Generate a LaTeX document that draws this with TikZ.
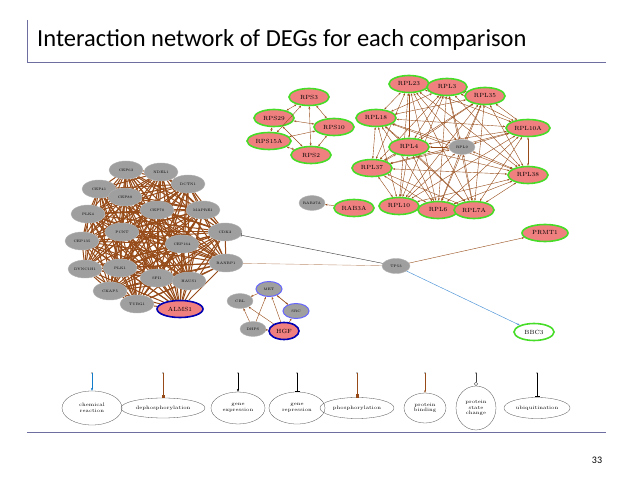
\documentclass[tikz,border=0pt]{standalone}
\usepackage{fontspec}
\newfontfamily\titlefont{Carlito}
\usetikzlibrary{shapes.geometric,arrows.meta,backgrounds}
\definecolor{edgebrown}{RGB}{150,75,25}
\definecolor{deg}{RGB}{240,128,128}
\definecolor{ring}{RGB}{70,220,40}
\definecolor{rule}{RGB}{110,110,160}
\tikzset{
  gene/.style={ellipse,fill=gray!75,draw=gray!60,minimum width=34pt,minimum height=18pt,inner sep=0pt,font=\fontsize{3.5}{4}\selectfont},
  up/.style={ellipse,fill=deg,draw=ring,line width=1.6pt,minimum width=40pt,minimum height=17pt,inner sep=0pt,font=\fontsize{6}{7}\selectfont},
  down/.style={up,draw=blue!70!black},
  link/.style={draw=edgebrown,line width=0.4pt,-{Stealth[length=2.5pt]}},
  heavy/.style={draw=edgebrown,line width=1pt},
  key/.style={ellipse,draw=gray!60!black,line width=0.3pt,inner sep=1pt,align=center,font=\fontsize{5}{5.5}\selectfont}
}
\begin{document}
\begin{tikzpicture}[x=1pt,y=-1pt]
\useasboundingbox (0,0) rectangle (638,478);
% title and rules
\node[anchor=base west,inner sep=0pt,font=\titlefont\fontsize{24.5}{28}\selectfont] (title) at (37,47) {Interaction network of DEGs for each comparison};
\draw[rule,line width=0.6pt] (27,20) -- (27,62) -- (606,62);
\draw[rule,line width=1pt] (27,433) -- (606,433);
\node[font=\titlefont\fontsize{10}{12}\selectfont] (page) at (597,460) {33};

% centrosome cluster
\node[gene] (CEP63) at (126,170) {CEP63};
\node[gene] (NDEL1) at (161,172) {NDEL1};
\node[gene] (DCTN1) at (188,184) {DCTN1};
\node[gene] (CEP41) at (99,189) {CEP41};
\node[gene] (CEP89) at (125,197) {CEP89};
\node[gene] (CEP70) at (157,210) {CEP70};
\node[gene] (MAPRE1) at (203,210) {MAPRE1};
\node[gene] (PLK4) at (88,214) {PLK4};
\node[gene] (PCNT) at (122,232) {PCNT};
\node[gene] (CDK2) at (225,232) {CDK2};
\node[gene] (CEP135) at (82,241) {CEP135};
\node[gene] (CEP164) at (182,244) {CEP164};
\node[gene] (DYNC1H1) at (85,269) {DYNC1H1};
\node[gene] (PLK1) at (120,268) {PLK1};
\node[gene] (NUP62) at (226,263) {RANBP1};
\node[gene] (SFI1) at (157,278) {SFI1};
\node[gene] (HAUS1) at (189,281) {HAUS1};
\node[gene] (CKAP5) at (110,291) {CKAP5};
\node[gene] (TUBG1) at (137,304) {TUBG1};
\node[down,minimum width=46pt] (ALMS1) at (180,309) {ALMS1};
\begin{scope}[on background layer]
\foreach \a [count=\i] in {CEP63,NDEL1,DCTN1,CEP41,CEP89,CEP70,MAPRE1,PLK4,PCNT,CDK2,CEP135,CEP164,DYNC1H1,PLK1,NUP62,SFI1,HAUS1,CKAP5,TUBG1,ALMS1}
  \foreach \b [count=\j] in {CEP63,NDEL1,DCTN1,CEP41,CEP89,CEP70,MAPRE1,PLK4,PCNT,CDK2,CEP135,CEP164,DYNC1H1,PLK1,NUP62,SFI1,HAUS1,CKAP5,TUBG1,ALMS1}
  {\ifnum\j>\i \draw[heavy] (\a) -- (\b); \fi}
\end{scope}

% small ribosomal cluster
\node[up] (RPS3) at (309,97) {RPS3};
\node[up] (RPS29) at (274,118) {RPS29};
\node[up] (RPS10) at (334,127) {RPS10};
\node[up,minimum width=44pt] (RPS15A) at (269,141) {RPS15A};
\node[up] (RPS2) at (311,155) {RPS2};
\foreach \a/\b in {RPS3/RPS29,RPS3/RPS10,RPS3/RPS2,RPS3/RPS15A,RPS29/RPS15A,RPS29/RPS10,RPS29/RPS2,RPS10/RPS2,RPS10/RPS15A,RPS15A/RPS2}
  \draw[link,{Stealth[length=2.5pt]}-{Stealth[length=2.5pt]}] (\a) -- (\b);

% large ribosomal cluster
\node[up] (RPL23) at (409,84) {RPL23};
\node[up] (RPL3) at (447,87) {RPL3};
\node[up] (RPL35) at (485,96) {RPL35};
\node[up] (RPL18) at (376,118) {RPL18};
\node[up,minimum width=44pt] (RPL10A) at (528,128) {RPL10A};
\node[up] (RPL4) at (409,147) {RPL4};
\node[gene,minimum width=26pt,minimum height=15pt] (RPL9) at (462,147) {RPL9};
\node[up] (RPL37) at (372,168) {RPL37};
\node[up] (RPL38) at (528,175) {RPL38};
\node[up] (RPL10) at (399,206) {RPL10};
\node[up] (RPL6) at (438,210) {RPL6};
\node[up] (RPL7A) at (474,210) {RPL7A};
\begin{scope}[on background layer]
\foreach \a [count=\i] in {RPL23,RPL3,RPL35,RPL18,RPL10A,RPL4,RPL9,RPL37,RPL38,RPL10,RPL6,RPL7A}
  \foreach \b [count=\j] in {RPL23,RPL3,RPL35,RPL18,RPL10A,RPL4,RPL9,RPL37,RPL38,RPL10,RPL6,RPL7A}
  {\ifnum\j>\i \draw[link,{Stealth[length=2.5pt]}-{Stealth[length=2.5pt]}] (\a) -- (\b); \fi}
\end{scope}

\node[gene,minimum width=26pt,minimum height=15pt] (RAB27A) at (312,203) {RAB27A};
\node[up] (RAB3A) at (354,208) {RAB3A};
\draw[link] (RAB3A) -- (RAB27A);

% hub and targets
\node[gene,minimum width=28pt,minimum height=15pt] (TP53) at (396,266) {TP53};
\node[up,minimum width=46pt] (PRMT1) at (545,233) {PRMT1};
\node[up,fill=white] (BBC3) at (534,332) {BBC3};
\draw[draw=gray!40!black,line width=0.4pt,-{Bar[width=4pt]}] (TP53) -- (CDK2);
\draw[draw=edgebrown!60,line width=0.4pt] (TP53) -- (NUP62);
\draw[link] (TP53) -- (PRMT1);
\draw[draw=cyan!60!blue!70,line width=0.5pt,-{Stealth[length=3pt]}] (TP53) -- (BBC3);

% HGF cluster
\node[gene,draw=blue!60,line width=1pt,minimum width=26pt,minimum height=15pt] (MET) at (269,289) {MET};
\node[gene,minimum width=26pt,minimum height=15pt] (CBL) at (240,301) {CBL};
\node[gene,draw=blue!60,line width=1pt,minimum width=26pt,minimum height=15pt] (SRC) at (296,311) {SRC};
\node[gene,minimum width=26pt,minimum height=15pt] (DHPS) at (253,329) {DHPS};
\node[down,minimum width=30pt] (HGF) at (284,331) {HGF};
\foreach \a/\b in {MET/CBL,MET/SRC,DHPS/CBL,DHPS/MET,HGF/MET,HGF/CBL,HGF/SRC,DHPS/HGF,SRC/MET}
  \draw[link] (\a) -- (\b);

% legend
\foreach \x/\name/\txt/\w/\h in {92/chem/chemical\\reaction/60/34,163/dephos/dephosphorylation/84/20,238/gexp/gene\\expression/54/32,297/grep/gene\\repression/56/32,357/phos/phosphorylation/74/21,425/bind/protein\\binding/42/30,476/state/protein\\state\\change/40/44,537/ubiq/ubiquitination/66/21}
{
  \node[key,minimum width=\w pt,minimum height=\h pt] (\name) at (\x,408) {\txt};
  \coordinate (top-\name) at (\x,373);
  \fill (top-\name) circle (0.7pt);
}
\draw[cyan!60!blue,line width=0.4pt,-{Stealth[length=3pt]}] (top-chem) -- (chem);
\draw[edgebrown,line width=0.4pt,-{Square[length=3pt,width=3pt]}] (top-dephos) -- (dephos);
\draw[black,line width=0.4pt,-{Stealth[length=3pt]}] (top-gexp) -- (gexp);
\draw[black,line width=0.4pt,-{Bar[width=5pt,line width=1pt]}] (top-grep) -- (grep);
\draw[edgebrown,line width=0.4pt,-{Square[length=3pt,width=3pt]}] (top-phos) -- (phos);
\draw[edgebrown,line width=0.4pt,-{Stealth[length=2.5pt]}] (top-bind) -- (bind);
\draw[gray!50!black,line width=0.4pt,-{Circle[open,length=4pt]}] (top-state) -- (state);
\draw[black,line width=0.4pt,-{Bar[width=5pt,line width=1pt]}] (top-ubiq) -- (ubiq);
\end{tikzpicture}
\end{document}
